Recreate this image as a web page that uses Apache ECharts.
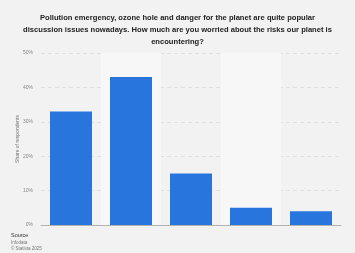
<!DOCTYPE html>
<html>
<head>
<meta charset="utf-8">
<script src="https://cdn.jsdelivr.net/npm/echarts@6/dist/echarts.min.js"></script>
<style>html,body{margin:0;padding:0;background:#f2f2f2;}#c{width:355px;height:253px;}</style>
</head>
<body>
<div id="c"></div>
<script>
const categories = ['Very worried', 'Quite worried', 'Somewhat worried', 'Little worried', 'Not worried at all'];
const values = [33, 43, 15, 5, 4];
const yTicks = [0, 10, 20, 30, 40, 50];
const titleText = 'Pollution emergency, ozone hole and danger for the planet are quite popular\ndiscussion issues nowadays. How much are you worried about the risks our planet is\nencountering?';

const chart = echarts.init(document.getElementById('c'), null, {renderer: 'canvas'});
chart.setOption({
  backgroundColor: '#f2f2f2',
  animation: false,
  title: {
    text: titleText,
    left: 'center',
    top: 7,
    textStyle: {fontFamily: 'Liberation Sans, Arial', fontSize: 7.6, fontWeight: 'bold', color: '#222', lineHeight: 12}
  },
  graphic: [
    {type: 'text', left: 11, top: 232, style: {text: 'Source', fontSize: 5.5, fill: '#333', fontFamily: 'Liberation Sans, Arial'}},
    {type: 'text', left: 11, top: 240, style: {text: 'Infodata', fontSize: 4.5, fill: '#777', fontFamily: 'Liberation Sans, Arial'}},
    {type: 'text', left: 11, top: 246, style: {text: '© Statista 2025', fontSize: 4.5, fill: '#777', fontFamily: 'Liberation Sans, Arial'}}
  ],
  grid: {left: 41, right: 14, top: 53, bottom: 28, containLabel: false},
  xAxis: {
    type: 'category',
    data: categories,
    axisLabel: {show: false, interval: 0},
    axisTick: {show: false, interval: 0},
    axisLine: {show: true, lineStyle: {color: '#b3b3b3', width: 1}},
    splitArea: {show: true, interval: 0, areaStyle: {color: ['rgba(0,0,0,0)', '#f7f7f7']}}
  },
  yAxis: {
    type: 'value',
    min: 0, max: 50, interval: 10,
    name: 'Share of respondents',
    nameLocation: 'middle',
    nameGap: 21,
    nameMoveOverlap: false,
    nameTextStyle: {fontSize: 5, color: '#777', fontFamily: 'Liberation Sans, Arial'},
    axisLabel: {fontSize: 5, color: '#888', formatter: v => yTicks.includes(v) ? v + '%' : '', margin: 8, fontFamily: 'Liberation Sans, Arial'},
    axisLine: {show: false},
    axisTick: {show: false},
    splitLine: {lineStyle: {color: '#e0e0e0', type: [4, 3], width: 1}}
  },
  series: [{
    type: 'bar',
    data: values,
    barWidth: '70%',
    itemStyle: {color: '#2876dd'},
    label: {show: false}
  }]
});
</script>
</body>
</html>
